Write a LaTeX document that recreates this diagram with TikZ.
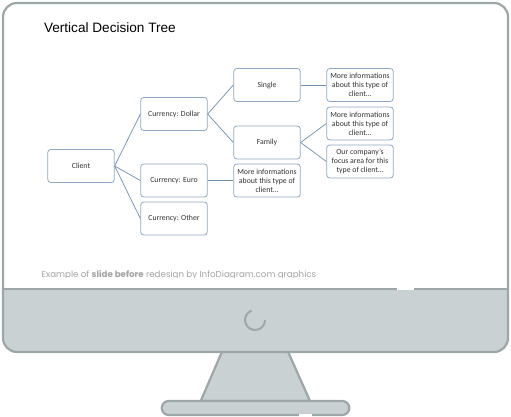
\documentclass[tikz,border=0pt]{standalone}
\usepackage{fontspec}
\setmainfont{Carlito}
\newfontfamily\titlefont{Liberation Sans}
\newfontfamily\footfont{Poppins}
\definecolor{frame}{HTML}{9EA7A7}
\definecolor{bezel}{HTML}{C9D1D3}
\definecolor{nodeedge}{HTML}{8EA8C3}
\definecolor{linkc}{HTML}{6F90B0}
\definecolor{footc}{HTML}{A3A3A3}
\begin{document}
\begin{tikzpicture}[x=1pt,y=-1pt,
  box/.style={draw=nodeedge, line width=0.8pt, rounded corners=3pt, fill=white,
    minimum width=66.5pt, minimum height=33pt, inner sep=1pt, align=center,
    font=\fontsize{7.8}{9}\selectfont, text=black!80},
  linkline/.style={draw=linkc, line width=0.7pt},
  frameline/.style={draw=frame, line width=2.2pt}]
\useasboundingbox (0,0) rectangle (511,417);
% stand
\filldraw[fill=bezel, frameline, line join=round] (222.7,350) -- (287.3,350) -- (310,401) -- (200.7,401) -- cycle;
\filldraw[fill=bezel, frameline, rounded corners=7pt] (161.7,401) rectangle (349.3,415);
\fill[white] (299,413.8) rectangle (311.7,417);
% monitor
\fill[white, rounded corners=14pt] (3,3) rectangle (508,352);
\begin{scope}
  \clip (0,289) rectangle (511,360);
  \fill[bezel, rounded corners=14pt] (3,3) rectangle (508,352);
\end{scope}
\draw[frameline] (3,289) -- (508,289);
\fill[white] (397,287.8) rectangle (414,290.2);
\draw[frameline, rounded corners=14pt] (3,3) rectangle (508,352);
\draw[draw=frame, line width=2pt] (255,320) ++(-110:10) arc[start angle=-110, end angle=-360, radius=10];
% title
\node[anchor=west, font=\titlefont\fontsize{13.6}{16}\selectfont, text=black] (title) at (40.5,28) {Vertical Decision Tree};
% footer
\begin{scope}
  \clip (30,258) rectangle (330,277);
  \node[anchor=base west, inner sep=0pt, font=\footfont\fontsize{8.7}{10}\selectfont, text=footc] (foot) at (41.5,277) {Example of \textbf{slide before} redesign by InfoDiagram.com graphics};
\end{scope}
% nodes
\node[box] (client) at (81,166) {Client};
\node[box] (dollar) at (174,114) {Currency: Dollar};
\node[box] (euro) at (174,180.5) {Currency: Euro};
\node[box] (other) at (174,218.5) {Currency: Other};
\node[box] (single) at (267,85) {Single};
\node[box] (family) at (267,142.5) {Family};
\node[box] (euroinfo) at (267,180.5) {More informations\\about this type of\\client…};
\node[box] (singleinfo) at (360,85) {More informations\\about this type of\\client…};
\node[box] (faminfo) at (360,123.5) {More informations\\about this type of\\client…};
\node[box] (famfocus) at (360,161.5) {Our company's\\focus area for this\\type of client…};
% connectors
\draw[linkline] (client.east) -- (dollar.west);
\draw[linkline] (client.east) -- (euro.west);
\draw[linkline] (client.east) -- (other.west);
\draw[linkline] (dollar.east) -- (single.west);
\draw[linkline] (dollar.east) -- (family.west);
\draw[linkline] (euro.east) -- (euroinfo.west);
\draw[linkline] (single.east) -- (singleinfo.west);
\draw[linkline] (family.east) -- (faminfo.west);
\draw[linkline] (family.east) -- (famfocus.west);
\end{tikzpicture}
\end{document}
